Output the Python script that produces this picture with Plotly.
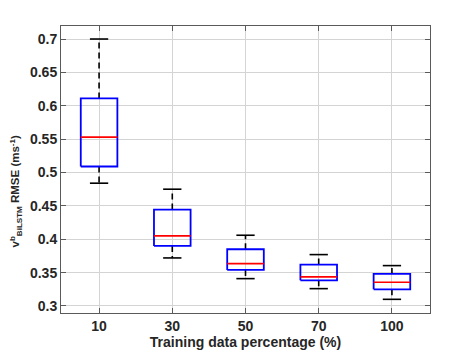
import plotly.graph_objects as go

categories = ["10", "30", "50", "70", "100"]
lower_whisker = [0.484, 0.372, 0.341, 0.326, 0.310]
q1 = [0.509, 0.390, 0.354, 0.3385, 0.325]
median = [0.553, 0.405, 0.3635, 0.3436, 0.3355]
q3 = [0.611, 0.4445, 0.385, 0.362, 0.348]
upper_whisker = [0.700, 0.475, 0.406, 0.377, 0.3605]

y_ticks = [0.3, 0.35, 0.4, 0.45, 0.5, 0.55, 0.6, 0.65, 0.7]
y_ticklabels = ["0.3", "0.35", "0.4", "0.45", "0.5", "0.55", "0.6", "0.65", "0.7"]

box_half = 0.25
cap_half = 0.125

pos = list(range(1, len(categories) + 1))

bx, by, mx, my, wx, wy, cx, cy = [], [], [], [], [], [], [], []
for i, p in enumerate(pos):
    bx += [p - box_half, p + box_half, p + box_half, p - box_half, p - box_half, None]
    by += [q1[i], q1[i], q3[i], q3[i], q1[i], None]
    mx += [p - box_half, p + box_half, None]
    my += [median[i], median[i], None]
    wx += [p, p, None, p, p, None]
    wy += [q3[i], upper_whisker[i], None, q1[i], lower_whisker[i], None]
    cx += [p - cap_half, p + cap_half, None, p - cap_half, p + cap_half, None]
    cy += [upper_whisker[i], upper_whisker[i], None, lower_whisker[i], lower_whisker[i], None]

fig = go.Figure()
fig.add_trace(go.Scatter(x=wx, y=wy, mode="lines",
                         line=dict(color="black", width=1.6, dash="6px,4px"),
                         hoverinfo="skip", showlegend=False))
fig.add_trace(go.Scatter(x=cx, y=cy, mode="lines",
                         line=dict(color="black", width=1.6),
                         hoverinfo="skip", showlegend=False))
fig.add_trace(go.Scatter(x=bx, y=by, mode="lines",
                         line=dict(color="#0000FF", width=1.8),
                         hoverinfo="skip", showlegend=False))
fig.add_trace(go.Scatter(x=mx, y=my, mode="lines",
                         line=dict(color="#FF0000", width=1.6),
                         hoverinfo="skip", showlegend=False))

axis_color = "#5a5a5a"
grid_color = "#d4d4d4"
font_family = "Liberation Sans, Arial, sans-serif"

fig.update_layout(
    width=466, height=347,
    margin=dict(l=53, r=44, t=18, b=42),
    paper_bgcolor="white", plot_bgcolor="white",
    font=dict(family=font_family, size=14, color="#262626"),
    xaxis=dict(
        range=[0.48, 5.52], tickmode="array", tickvals=pos,
        ticktext=["<b>%s</b>" % c for c in categories],
        showgrid=True, gridcolor=grid_color, gridwidth=1,
        showline=True, linecolor=axis_color, linewidth=1, mirror="ticks",
        ticks="inside", ticklen=5, tickcolor=axis_color,
        zeroline=False, automargin=False,
        title=dict(text="<b>Training data percentage (%)</b>", font=dict(size=14), standoff=2),
        tickfont=dict(size=14),
    ),
    yaxis=dict(
        range=[0.2895, 0.7195], tickmode="array", tickvals=y_ticks,
        ticktext=["<b>%s</b>" % t for t in y_ticklabels],
        showgrid=True, gridcolor=grid_color, gridwidth=1,
        showline=True, linecolor=axis_color, linewidth=1, mirror="ticks",
        ticks="inside", ticklen=5, tickcolor=axis_color,
        zeroline=False, automargin=False,
        tickfont=dict(size=14),
    ),
    annotations=[dict(
        text="<b>v<sup>b</sup><sub>BiLSTM</sub> RMSE (ms<sup>-1</sup>)</b>",
        textangle=-90, xref="paper", yref="paper", x=0, y=0.5,
        xanchor="center", yanchor="middle", xshift=-46, yshift=-22,
        showarrow=False, font=dict(size=11.5, family=font_family, color="#262626"),
    )],
)

fig.write_html("out.html")
